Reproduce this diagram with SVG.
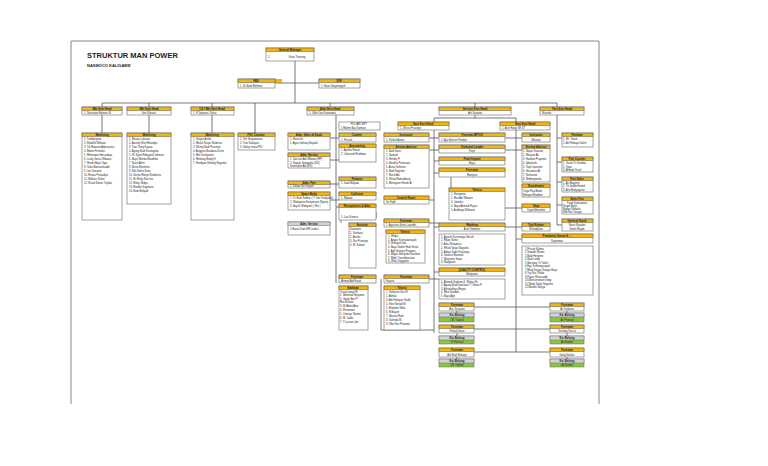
<svg xmlns="http://www.w3.org/2000/svg" width="768" height="466" viewBox="0 0 768 466">
<style>
.h{fill:#f5b50f;stroke:#555;stroke-width:0.5}
.b{fill:#fff;stroke:#666;stroke-width:0.6}
.g{fill:#d3d3d3;stroke:#666;stroke-width:0.5}
.gr{fill:#8cc63e;stroke:#666;stroke-width:0.5}
.c{fill:none;stroke:#555;stroke-width:0.8}
text{font-family:"Liberation Sans",Arial,sans-serif;fill:#222}
.t{font-size:2.8px;font-weight:bold;text-anchor:middle}
.l{font-size:2.6px}
.m{font-size:2.6px;text-anchor:middle}
</style>
<rect width="768" height="466" fill="#fff"/>
<path d="M71,404 V41 H599 V404" fill="none" stroke="#888" stroke-width="1"/>
<text x="87" y="58" style="font-size:7.5px;font-weight:bold">STRUKTUR MAN POWER</text>
<text x="87" y="67" style="font-size:4px;font-weight:bold">NASMOCO KALIGAWE</text>
<g id="connectors" class="c">
<path d="M295,61 V103 M275,83 H319 M102,103 H557 M102,103 V107 M149,103 V107 M212,103 V107 M255,103 V133 M330,103 V107 M475,103 V107 M557,103 V107"/>
<path d="M102,115 V133 M149,115 V133 M212,115 V133"/>
<path d="M336,115 V283 M330,138 H339 M330,160 H339 M330,184 H339 M330,200 H339 M336,207 H339 M341,215 V223 M376,212 V218"/>
<path d="M475,115 V118 M434,118 H516 M434,118 V122 M516,118 V122"/>
<path d="M434,130 V333 M429,138 H439 M429,150 H439 M434,161 H439 M434,173 H439 M429,200 H434 M429,223 H439 M429,279 H439 M434,227 H439 M434,272 H439 M451,177 V188 M381,279 V330 H434"/>
<path d="M516,130 V352 M505,138 H522 M505,150 H522 M505,208 H522 M505,227 H522 M516,239 H522 M474,307 H550 M474,329 H550 M474,352 H550 M457,311 V313 M457,333 V336 M457,357 V359 M567,311 V313 M567,333 V336 M567,357 V359"/>
<path d="M557,115 V225 M557,138 H562 M557,162 H562 M557,182 H562 M557,205 H562 M557,225 H562"/>
<path d="M275,82 H282"/>
</g>
<rect x="275" y="79" width="7" height="3.5" fill="#f5b50f"/>
<g id="gm"><rect class="b" x="266" y="48" width="48" height="13"/><rect class="h" x="266" y="48" width="48" height="3.5"/><text class="t" x="290" y="50.8">General Manager</text><text class="l" x="268" y="58">1.</text><text class="m" x="297" y="58">Iskan Tirtaning</text></g>
<g id="fad"><rect class="b" x="238" y="79" width="37" height="9"/><rect class="h" x="238" y="79" width="37" height="3.5"/><text class="t" x="256" y="81.8">FAD</text><text class="l" x="240" y="86.5">1.  Sri Budi Rahmuti</text></g>
<g id="dir"><rect class="b" x="319" y="79" width="41" height="9"/><rect class="h" x="319" y="79" width="41" height="3.5"/><text class="t" x="339" y="81.8">DIR</text><text class="l" x="321" y="86.5">1.      Nova Setyaningsih</text></g>
<g id="mkt1"><rect class="b" x="82" y="107" width="40" height="8"/><rect class="h" x="82" y="107" width="40" height="3.5"/><text class="t" x="102" y="109.8">Mkt Sect Head</text><text class="l" x="84" y="114">1.  Nurcahyo Rakerta W.</text></g>
<g id="mkt2"><rect class="b" x="127" y="107" width="44" height="8"/><rect class="h" x="127" y="107" width="44" height="3.5"/><text class="t" x="149" y="109.8">Mkt Sect Head</text><text class="m" x="149" y="114">Ikin Ulfasatri</text></g>
<g id="mkt3"><rect class="b" x="191" y="107" width="43" height="8"/><rect class="h" x="191" y="107" width="43" height="3.5"/><text class="t" x="212" y="109.8">CS / Mkt Sect Head</text><text class="l" x="193" y="114">1.    F.Tjahjono / Siska</text></g>
<g id="adm"><rect class="b" x="307" y="107" width="47" height="8"/><rect class="h" x="307" y="107" width="47" height="3.5"/><text class="t" x="330" y="109.8">Adm Sect Head</text><text class="l" x="309" y="114">1.   Ulfah Dwi Kurniawati</text></g>
<g id="svc"><rect class="b" x="439" y="107" width="72" height="8"/><rect class="h" x="439" y="107" width="72" height="3.5"/><text class="t" x="475" y="109.8">Service Sect Head</text><text class="m" x="475" y="114">Arif Susanto</text></g>
<g id="part"><rect class="b" x="540" y="107" width="44" height="8"/><rect class="h" x="540" y="107" width="44" height="3.5"/><text class="t" x="562" y="109.8">Part Sect Head</text><text class="l" x="542" y="114">   Mustofa</text></g>
<g id="marketing1"><rect class="b" x="82" y="133" width="40" height="87"/><rect class="h" x="82" y="133" width="40" height="3.5"/><text class="t" x="102" y="135.8">Marketing</text>
<text class="l" x="84" y="140">1.  Tumbaryono</text><text class="l" x="84" y="144">2.  Rudolfo Wibowo</text><text class="l" x="84" y="148">3.  Yd Maweriu Adiprasetio</text><text class="l" x="84" y="152">4.  Edwin Ferlnalto</text><text class="l" x="84" y="156">5.  Rihmawati Harsadaya</text><text class="l" x="84" y="160">6.  Lucky Satria Wibawa</text><text class="l" x="84" y="164">7.  Hendi Mayo Yoga</text><text class="l" x="84" y="168">8.  Yakin Banurizkuadh</text><text class="l" x="84" y="172">9.  Leo Susanto</text><text class="l" x="84" y="176">10. Rosita Pratiadiyo</text><text class="l" x="84" y="180">11. Malleus Sofari</text><text class="l" x="84" y="184">12. Rusdi Sitanti Triyoko</text></g>
<g id="marketing2"><rect class="b" x="127" y="133" width="44" height="71"/><rect class="h" x="127" y="133" width="44" height="3.5"/><text class="t" x="149" y="135.8">Marketing</text>
<text class="l" x="129" y="140">1.  Reuan Laksono</text><text class="l" x="129" y="144">2.  Aasetty Wati Rinardyo</text><text class="l" x="129" y="148">3.  Tian Tiong Kayuw</text><text class="l" x="129" y="152">4.  Agung Budi Susilayono</text><text class="l" x="129" y="156">5.  M. Syarif Hidayatul Johman</text><text class="l" x="129" y="160">6.  Bayu Wahdu Mardhiko</text><text class="l" x="129" y="164">7.  Nurul Arifin</text><text class="l" x="129" y="168">8.  Bisno Marmitos</text><text class="l" x="129" y="172">9.  Nila Safira Sutia</text><text class="l" x="129" y="176">10. Sesha Rahyu Nurdianto</text><text class="l" x="129" y="180">11. M. Rizky Nurcrita</text><text class="l" x="129" y="184">12. Rizky Widya</text><text class="l" x="129" y="188">13. Rindha Sugiharto</text><text class="l" x="129" y="192">14. Budi Mulyadi</text></g>
<g id="marketing3"><rect class="b" x="191" y="133" width="43" height="87"/><rect class="h" x="191" y="133" width="43" height="3.5"/><text class="t" x="212" y="135.8">Marketing</text>
<text class="l" x="193" y="140">1.  Setyan Arifah</text><text class="l" x="193" y="144">2.  Bhakti Nurya Shabrina</text><text class="l" x="193" y="148">3.  Wisiny Budi Prasetyo</text><text class="l" x="193" y="152">4.  Anggoro Bandana Dicho</text><text class="l" x="193" y="156">5.  Rini Susilyanito</text><text class="l" x="193" y="160">6.  Rindung Bindy H.</text><text class="l" x="193" y="164">7.  Hardiyan Uthindy Nugroho</text></g>
<g id="pdc"><rect class="b" x="238" y="133" width="37" height="17"/><rect class="h" x="238" y="133" width="37" height="3.5"/><text class="t" x="256" y="135.8">PDC Counter</text><text class="l" x="240" y="140">1.  Yoli Setiyawinata</text><text class="l" x="240" y="144">2.  Tino Sulaiyani</text><text class="l" x="240" y="148">3.  Valery Irtano PDI</text></g>
<g id="admsales"><rect class="b" x="288" y="133" width="42" height="17"/><rect class="h" x="288" y="133" width="42" height="3.5"/><text class="t" x="309" y="135.8">Adm. Sales &amp; Stock</text><text class="l" x="290" y="140">1.  Hana Sri</text><text class="l" x="290" y="144">2.  Agus Indriany Bayakti</text></g>
<g id="admservice"><rect class="b" x="288" y="153" width="42" height="15"/><rect class="h" x="288" y="153" width="42" height="3.5"/><text class="t" x="309" y="155.8">Adm. Service</text><text class="l" x="290" y="160">1.  Dwi Lalt Adi Wibowo (RP)</text><text class="l" x="290" y="163.5">2. Kepala Stampeha (SD)</text><text class="l" x="290" y="167">Kontraktor Ad (WD)</text></g>
<g id="admpart"><rect class="b" x="288" y="181" width="42" height="7"/><rect class="h" x="288" y="181" width="42" height="3.5"/><text class="t" x="309" y="183.8">Adm. Part</text><text class="l" x="290" y="187.3">1.  Dotwa Nur Inayah</text></g>
<g id="sparebody"><rect class="b" x="288" y="192" width="42" height="18"/><rect class="h" x="288" y="192" width="42" height="3.5"/><text class="t" x="309" y="194.8">Spare Body</text><text class="l" x="290" y="199">1. Tri Budi Sudhar ( Y Yani Sudiyodh)</text><text class="l" x="290" y="203">2. Widayanto Hariyansen (Nyoto)</text><text class="l" x="290" y="207">3. Bayuh Widayanti ( Ner )</text></g>
<g id="admservice2"><rect class="b" x="288" y="222" width="42" height="13"/><rect class="g" x="288" y="222" width="42" height="3.5"/><text class="t" x="309" y="224.8">Adm. Service</text><text class="l" x="290" y="230">1.Ratna Dewi NR        Linda L</text></g>
<g id="pdl"><rect class="b" x="339" y="122" width="41" height="8"/><text class="m" x="359" y="125">PDL AR1 BPT</text><text class="l" x="341" y="129">1.Rahmi Bua Sarihan</text></g>
<g id="cashier"><rect class="b" x="339" y="133" width="37" height="9"/><rect class="h" x="339" y="133" width="37" height="3.5"/><text class="t" x="357" y="135.8">Cashier</text><text class="l" x="341" y="140.5">1.  Parsah</text></g>
<g id="accounting"><rect class="b" x="339" y="144" width="37" height="18"/><rect class="h" x="339" y="144" width="37" height="3.5"/><text class="t" x="357" y="146.8">Accounting</text><text class="l" x="341" y="151">1.  Aprilha Rizaal</text><text class="l" x="341" y="155">2.  Juliansah Rudiman</text></g>
<g id="finance"><rect class="b" x="339" y="177" width="37" height="11"/><rect class="h" x="339" y="177" width="37" height="3.5"/><text class="t" x="357" y="179.8">Finance</text><text class="l" x="341" y="184">1.  Dadi Mulyadi</text></g>
<g id="collector"><rect class="b" x="339" y="192" width="37" height="8"/><rect class="h" x="339" y="192" width="37" height="3.5"/><text class="t" x="357" y="194.8">Collector</text><text class="l" x="341" y="199">1.  Ridwan</text></g>
<g id="receptionist"><rect class="b" x="339" y="204" width="37" height="16"/><rect class="h" x="339" y="204" width="37" height="3.5"/><text class="t" x="357" y="206.8">Receptionist &amp; Adm</text><text class="l" x="341" y="218">1.  Lusi Gutiero</text></g>
<g id="security"><rect class="b" x="349" y="223" width="27" height="45"/><rect class="h" x="349" y="223" width="27" height="3.5"/><text class="t" x="362" y="225.8">Security</text><text class="l" x="350" y="230">Sarwanto</text><text class="l" x="350" y="234">1.  Surhono</text><text class="l" x="350" y="238">2.  Anurbi</text><text class="l" x="350" y="242">3.  Nur Prasetyo</text><text class="l" x="350" y="246">4.  M. Sulaeh</text></g>
<g id="foremanA"><rect class="b" x="339" y="275" width="37" height="8"/><rect class="h" x="339" y="275" width="37" height="3.5"/><text class="t" x="357" y="277.8">Foreman</text><text class="l" x="341" y="282">Ahmad Adi Rusdi</text></g>
<g id="stallman"><rect class="b" x="339" y="286" width="29" height="44"/><rect class="h" x="339" y="286" width="29" height="3.5"/><text class="t" x="353" y="288.8">Stallman</text><text class="l" x="340" y="292.5">Trisno Ismail W</text><text class="l" x="340" y="296">1. Mahmud Haryanto</text><text class="l" x="340" y="300">2. Giraly Bori P</text><text class="l" x="340" y="303">   Rita Rusinti</text><text class="l" x="340" y="307">3. M. Abdul Aziz</text><text class="l" x="340" y="311">4. Prinatmoh</text><text class="l" x="340" y="315">5. Lihonyo Slamet</text><text class="l" x="340" y="319">6. M. Jadilo</text><text class="l" x="340" y="323">7. Y.Lucnan Jan</text></g>
<g id="sh1"><rect class="b" x="398" y="122" width="51" height="8"/><rect class="h" x="398" y="122" width="51" height="3.5"/><text class="t" x="423" y="124.8">Sect Sect Head</text><text class="l" x="400" y="129">1.  Wisnu Prasetyo</text></g>
<g id="sh2"><rect class="b" x="500" y="122" width="50" height="8"/><rect class="h" x="500" y="122" width="50" height="3.5"/><text class="t" x="525" y="124.8">Sect Sect Head</text><text class="l" x="502" y="129">1.  Aruf Haidy SE.ST</text></g>
<g id="instructor1"><rect class="b" x="384" y="133" width="45" height="9"/><rect class="h" x="384" y="133" width="45" height="3.5"/><text class="t" x="406" y="135.8">Instructor</text><text class="l" x="386" y="140.5">1.  Fatihul Aizain</text></g>
<g id="sa1"><rect class="b" x="384" y="145" width="45" height="43"/><rect class="h" x="384" y="145" width="45" height="3.5"/><text class="t" x="406" y="147.8">Service Advisor</text><text class="l" x="386" y="152">1.  Budi Santi</text><text class="l" x="386" y="156">2.  Sumadi</text><text class="l" x="386" y="160">3.  Hendry P.</text><text class="l" x="386" y="164">4.  Bondhu Perwiraan</text><text class="l" x="386" y="168">5.  Asnoi Suftanto</text><text class="l" x="386" y="172">6.  Budi Nugroho</text><text class="l" x="386" y="176">7.  Ruchi Ani</text><text class="l" x="386" y="180">8.  Wisky Ramadhany</text><text class="l" x="386" y="184">9.  Bhinegoro Hendri A</text></g>
<g id="control"><rect class="b" x="384" y="196" width="45" height="8"/><rect class="h" x="384" y="196" width="45" height="3.5"/><text class="t" x="406" y="198.8">Control Room</text><text class="l" x="386" y="203">Sri Fadli</text></g>
<g id="foreman1"><rect class="b" x="384" y="219" width="45" height="8"/><rect class="h" x="384" y="219" width="45" height="3.5"/><text class="t" x="406" y="221.8">Foreman</text><text class="l" x="386" y="226">1.  Agustina Soha Luiandhi</text></g>
<g id="teknisi1"><rect class="b" x="386" y="230" width="39" height="33"/><rect class="h" x="386" y="230" width="39" height="3.5"/><text class="t" x="405" y="232.8">Teknisi</text><text class="l" x="388" y="237">1.  Widyo</text><text class="l" x="388" y="240.5">2.  Azwar  Kurniawansyah</text><text class="l" x="388" y="244">3.  M.Bayuh Sair</text><text class="l" x="388" y="248">4.  Bayu Sabihi Hadi Sertia</text><text class="l" x="388" y="251.5">5.  Agil Vatiniya Pratama</text><text class="l" x="388" y="255">6.  Bagas Hariyadu Nasrikoe</text><text class="l" x="388" y="258.5">7.  Ridlo Tranukbasiano</text><text class="l" x="388" y="262">8.  Wiho Ungganto</text></g>
<g id="foreman2"><rect class="b" x="384" y="275" width="45" height="8"/><rect class="h" x="384" y="275" width="45" height="3.5"/><text class="t" x="406" y="277.8">Foreman</text><text class="l" x="386" y="282">Fajarto</text></g>
<g id="teknisi2"><rect class="b" x="384" y="286" width="36" height="44"/><rect class="h" x="384" y="286" width="36" height="3.5"/><text class="t" x="402" y="288.8">Teknisi</text><text class="l" x="386" y="292.5">1.  Sulkarna Oke W</text><text class="l" x="386" y="296.5">2.  Akhlak</text><text class="l" x="386" y="300.5">3.  Adi Febriyan Sadik</text><text class="l" x="386" y="304.5">4.  Nino Nurudi M</text><text class="l" x="386" y="308.5">5.  Endarbe Wibe</text><text class="l" x="386" y="312.5">6.  M.Bayuh</text><text class="l" x="386" y="316.5">7.  Mustari Rodi</text><text class="l" x="386" y="320.5">8.  Sulendo W.</text><text class="l" x="386" y="324.5">9.  Ulfer Nur Pratama</text></g>
<g id="foremanbp"><rect class="b" x="439" y="133" width="66" height="9"/><rect class="h" x="439" y="133" width="66" height="3.5"/><text class="t" x="472" y="135.8">Foreman BP/CS</text><text class="l" x="441" y="140.5">1.    Ajar Bahrun Pratikto</text></g>
<g id="techleader"><rect class="b" x="439" y="145" width="66" height="8"/><rect class="h" x="439" y="145" width="66" height="3.5"/><text class="t" x="472" y="147.8">Technical Leader</text><text class="m" x="472" y="152">Fajrif</text></g>
<g id="finalinspect"><rect class="b" x="439" y="157" width="66" height="8"/><rect class="h" x="439" y="157" width="66" height="3.5"/><text class="t" x="472" y="159.8">Final Inspect</text><text class="m" x="472" y="164">Bayu</text></g>
<g id="foreman3"><rect class="b" x="439" y="168" width="66" height="9"/><rect class="h" x="439" y="168" width="66" height="3.5"/><text class="t" x="472" y="170.8">Foreman</text><text class="m" x="472" y="175.5">Rianjono</text></g>
<g id="teknisi3"><rect class="b" x="449" y="188" width="56" height="32"/><rect class="h" x="449" y="188" width="56" height="3.5"/><text class="t" x="477" y="190.8">Teknisi</text><text class="l" x="451" y="195">1.  Pamyanto</text><text class="l" x="451" y="199">2.  Eko Adi Wibowo</text><text class="l" x="451" y="203">3.  Jatmiko</text><text class="l" x="451" y="207">4.  Bayu Ahmadi Puyan</text><text class="l" x="451" y="211">5.  Andhega Widianto</text></g>
<g id="washing"><rect class="b" x="439" y="223" width="66" height="8"/><rect class="h" x="439" y="223" width="66" height="3.5"/><text class="t" x="472" y="225.8">Washing</text><text class="m" x="472" y="230">Arief Soleman</text></g>
<g id="washlist"><rect class="b" x="439" y="234" width="66" height="31"/><text class="l" x="441" y="237.5">1.  Agustin Kurniantya Nursih</text><text class="l" x="441" y="241">2.  Riyan Sohie</text><text class="l" x="441" y="245">3.  Anis Wiriaposis</text><text class="l" x="441" y="249">4.  Rhahi Satya Nugraha</text><text class="l" x="441" y="252.5">5.  Aditya Sadri Kristanga</text><text class="l" x="441" y="256">6.  Unaese Marimali</text><text class="l" x="441" y="259.5">7.  Maryanto Sanjo</text><text class="l" x="441" y="263">8.  Budiyanto</text></g>
<g id="qc"><rect class="b" x="439" y="268" width="66" height="8"/><rect class="h" x="439" y="268" width="66" height="3.5"/><text class="t" x="472" y="270.8">QUALITY CONTROL</text><text class="m" x="472" y="275">Mahyanto</text></g>
<g id="qclist"><rect class="b" x="439" y="279" width="66" height="20"/><text class="l" x="441" y="282.5">1.  Ahmadi Sudiono          6.  Wahyu Nr</text><text class="l" x="441" y="286">2.  Agung Budi Dwicharo    7.  Johan P</text><text class="l" x="441" y="289.5">3.  Afriatudhiyu Regea</text><text class="l" x="441" y="293">4.  Riko Sandolo</text><text class="l" x="441" y="296.5">5.  Bayu Agh</text></g>
<g id="instructor2"><rect class="b" x="522" y="133" width="28" height="9"/><rect class="h" x="522" y="133" width="28" height="3.5"/><text class="t" x="536" y="135.8">Instructor</text><text class="m" x="536" y="140.5">Mustafa</text></g>
<g id="sa2"><rect class="b" x="522" y="145" width="28" height="37"/><rect class="h" x="522" y="145" width="28" height="3.5"/><text class="t" x="536" y="147.8">Service Advisor</text><text class="l" x="523" y="152">1. Nayar Susanto</text><text class="l" x="523" y="156">2. Manjum Ak</text><text class="l" x="523" y="160">3. Hardum Prayento</text><text class="l" x="523" y="164">4. Iqbalnalin</text><text class="l" x="523" y="168">5. Yayh Iaprantio</text><text class="l" x="523" y="172">6. Hasrdano Al</text><text class="l" x="523" y="176">7. Nurhantio</text><text class="l" x="523" y="180">8. Bimbingmulia</text></g>
<g id="koord"><rect class="b" x="522" y="184" width="28" height="13"/><rect class="h" x="522" y="184" width="28" height="3.5"/><text class="t" x="536" y="186.8">Koordinator</text><text class="l" x="523" y="191.5">Yuga Puja Bindri</text><text class="l" x="523" y="195.5">Mengen Riadhan</text></g>
<g id="stp"><rect class="b" x="522" y="204" width="28" height="8"/><rect class="h" x="522" y="204" width="28" height="3.5"/><text class="t" x="536" y="206.8">Stop</text><text class="m" x="536" y="211">Yuyah Marimhin</text></g>
<g id="toolkeeper"><rect class="b" x="522" y="223" width="28" height="8"/><rect class="h" x="522" y="223" width="28" height="3.5"/><text class="t" x="536" y="225.8">Tool Keeper</text><text class="m" x="536" y="230">Wirhabjhoin</text></g>
<g id="pembantu"><rect class="b" x="522" y="234" width="71" height="9"/><rect class="h" x="522" y="234" width="71" height="3.5"/><text class="t" x="557" y="236.8">Pembantu Umum &amp; ...</text><text class="m" x="557" y="241.5">Suparman</text></g>
<g id="pemlist"><rect class="b" x="522" y="246" width="71" height="49"/><text class="l" x="525" y="249.5">1.Priscip Kalima</text><text class="l" x="525" y="253">2.Suwadi Wazmi</text><text class="l" x="525" y="256.5">3.Nadi Hertamo</text><text class="l" x="525" y="260">4.Nadi Lindhi</text><text class="l" x="525" y="263.5">5.Marsang Tri Yakih</text><text class="l" x="525" y="267">6.Eya Tarimangsayah</text><text class="l" x="525" y="270.5">7.Rindi Sarjayi Sangai Bayu</text><text class="l" x="525" y="274">8.Yuji Nur Thodo</text><text class="l" x="525" y="277.5">9.Puyar Winarsadhi</text><text class="l" x="525" y="281">10.Murhunsiman Indoy</text><text class="l" x="525" y="284.5">11.Wadri Sulyo Nugroho</text><text class="l" x="525" y="288">12.Mardhi Sarjiya</text></g>
<g id="partA"><rect class="b" x="562" y="133" width="31" height="14"/><rect class="h" x="562" y="133" width="31" height="3.5"/><text class="t" x="577" y="135.8">Partman</text><text class="l" x="563" y="140">1. Mr. Yatuih</text><text class="l" x="563" y="144">2. Arif Hidayat Saleh</text></g>
<g id="partB"><rect class="b" x="562" y="157" width="31" height="15"/><rect class="h" x="562" y="157" width="31" height="3.5"/><text class="t" x="577" y="159.8">Part Counter</text><text class="l" x="563" y="164">1. Susilo Tri Sarditio</text><text class="l" x="563" y="167.5">2. Yogo</text><text class="l" x="563" y="171">3. Ahmad Yusuf</text></g>
<g id="partC"><rect class="b" x="562" y="177" width="31" height="15"/><rect class="h" x="562" y="177" width="31" height="3.5"/><text class="t" x="577" y="179.8">Part Sales</text><text class="l" x="563" y="183.5">1. Ari Baginesi</text><text class="l" x="563" y="187">2. Yh Ikodhi Hamid</text><text class="l" x="563" y="190.5">3. Aria Rahyoguno</text></g>
<g id="partD"><rect class="b" x="562" y="197" width="31" height="17"/><rect class="h" x="562" y="197" width="31" height="3.5"/><text class="t" x="577" y="199.8">Sales Part</text><text class="m" x="577" y="203.5">Fuad Sulistiawan</text><text class="l" x="563" y="207">Stupih Bahri</text><text class="l" x="563" y="210">Nadyo Widiaha</text><text class="l" x="563" y="213">Wib Kini Yasayo</text></g>
<g id="partE"><rect class="b" x="562" y="219" width="31" height="12"/><rect class="h" x="562" y="219" width="31" height="3.5"/><text class="t" x="577" y="221.8">General Stock</text><text class="m" x="577" y="225.5">Nanu Wiyadini</text><text class="m" x="577" y="229.5">Saleh Muyah</text></g>
<g id="p1"><rect class="b" x="439" y="303" width="35" height="8"/><rect class="h" x="439" y="303" width="35" height="3.5"/><text class="t" x="457" y="305.8">Foreman</text><text class="m" x="457" y="310">Aris Suryanto</text></g>
<g id="k1"><rect class="gr" x="439" y="313" width="35" height="9"/><rect class="g" x="439" y="313" width="35" height="4"/><text class="t" x="457" y="316">Ka. Bolong</text><text class="m" x="457" y="320.8">I.M. Yakanil</text></g>
<g id="p2"><rect class="b" x="439" y="325" width="35" height="8"/><rect class="h" x="439" y="325" width="35" height="3.5"/><text class="t" x="457" y="327.8">Foreman</text><text class="m" x="457" y="332">Firhad Dinan</text></g>
<g id="k2"><rect class="gr" x="439" y="336" width="35" height="8"/><rect class="g" x="439" y="336" width="35" height="4"/><text class="t" x="457" y="339">Ka. Bolong</text><text class="m" x="457" y="343.3">H. Fahrizal</text></g>
<g id="p3"><rect class="b" x="439" y="348" width="35" height="9"/><rect class="h" x="439" y="348" width="35" height="3.5"/><text class="t" x="457" y="350.8">Foreman</text><text class="m" x="457" y="355.5">Arif Budi Raharjo</text></g>
<g id="k3"><rect class="gr" x="439" y="359" width="35" height="8"/><rect class="g" x="439" y="359" width="35" height="4"/><text class="t" x="457" y="362">Ka. Bolong</text><text class="m" x="457" y="366.3">I.R. Yakmal</text></g>
<g id="q1"><rect class="b" x="550" y="303" width="34" height="8"/><rect class="h" x="550" y="303" width="34" height="3.5"/><text class="t" x="567" y="305.8">Foreman</text><text class="m" x="567" y="310">Ari Sudarno</text></g>
<g id="l1"><rect class="gr" x="550" y="313" width="34" height="9"/><rect class="g" x="550" y="313" width="34" height="4"/><text class="t" x="567" y="316">Ka. Bolong</text><text class="m" x="567" y="320.8">Ari Pramad</text></g>
<g id="q2"><rect class="b" x="550" y="325" width="34" height="8"/><rect class="h" x="550" y="325" width="34" height="3.5"/><text class="t" x="567" y="327.8">Foreman</text><text class="m" x="567" y="332">Sorliday Sarcal</text></g>
<g id="l2"><rect class="gr" x="550" y="336" width="34" height="8"/><rect class="g" x="550" y="336" width="34" height="4"/><text class="t" x="567" y="339">Ka. Bolong</text><text class="m" x="567" y="343.3">Ari Handal</text></g>
<g id="q3"><rect class="b" x="550" y="348" width="34" height="9"/><rect class="h" x="550" y="348" width="34" height="3.5"/><text class="t" x="567" y="350.8">Foreman</text><text class="m" x="567" y="355.5">Galiq Sahlan</text></g>
<g id="l3"><rect class="gr" x="550" y="359" width="34" height="8"/><rect class="g" x="550" y="359" width="34" height="4"/><text class="t" x="567" y="362">Ka. Bolong</text><text class="m" x="567" y="366.3">Ari Nordal</text></g>
</svg>
